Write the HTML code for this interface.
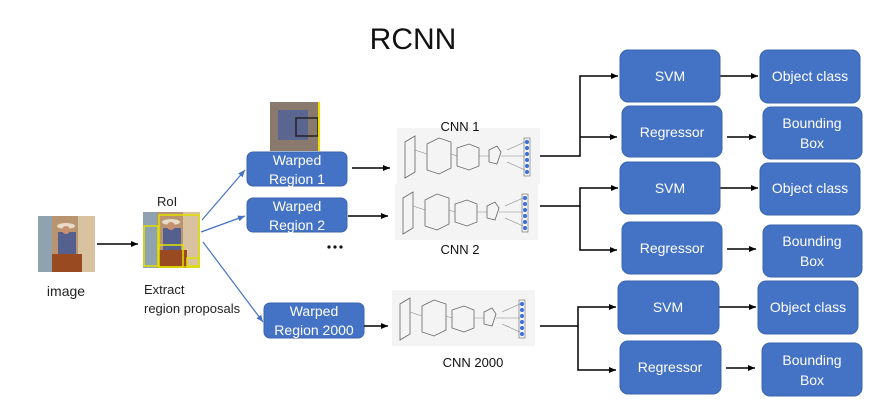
<!DOCTYPE html>
<html><head><meta charset="utf-8"><style>
html,body{margin:0;padding:0;background:#fff;}
svg{display:block;font-family:"Liberation Sans",sans-serif;}
</style></head><body>
<svg width="876" height="413" viewBox="0 0 876 413" xmlns="http://www.w3.org/2000/svg">
<defs>
<marker id="a" markerWidth="8" markerHeight="8" refX="7" refY="4" orient="auto" markerUnits="userSpaceOnUse"><path d="M0,1 L7,4 L0,7 Z" fill="#000"/></marker>
<marker id="b" markerWidth="8" markerHeight="8" refX="7" refY="4" orient="auto" markerUnits="userSpaceOnUse"><path d="M0,1 L7,4 L0,7 Z" fill="#4472c4"/></marker>
<g id="cnn">
<rect x="0" y="0" width="143" height="56" fill="#f4f4f4"/>
<path d="M8,14 L18,8 L18,44 L8,50 Z M30,16 L42,10 L54,14 L54,40 L42,46 L30,42 Z M60,20 L72,16 L82,20 L82,38 L72,42 L60,38 Z M92,22 L100,18 L104,24 L100,36 L92,34 Z" fill="none" stroke="#666" stroke-width="0.8"/>
<path d="M18,22 L30,26 M54,26 L60,28 M82,28 L92,28 M104,28 L128,28 M110,22 L128,14 M110,34 L128,42" stroke="#888" stroke-width="0.6"/>
<rect x="127" y="10" width="6" height="38" fill="none" stroke="#666" stroke-width="0.6"/>
<g fill="#3a6fd8"><circle cx="130" cy="14" r="2"/><circle cx="130" cy="20" r="2"/><circle cx="130" cy="26" r="2"/><circle cx="130" cy="32" r="2"/><circle cx="130" cy="38" r="2"/><circle cx="130" cy="44" r="2"/></g>
</g>
<g id="photo">
<rect x="0" y="0" width="57" height="56" fill="#b89570"/>
<rect x="0" y="0" width="14" height="56" fill="#8fa2b0"/>
<rect x="40" y="0" width="17" height="56" fill="#d8c2a0"/>
<rect x="20" y="16" width="18" height="22" fill="#55608f"/>
<ellipse cx="28" cy="10" rx="9" ry="3" fill="#e8dcc8"/>
<circle cx="28" cy="14" r="4" fill="#c89070"/>
<rect x="14" y="38" width="30" height="18" fill="#9a4a20"/>
</g>
</defs>
<text x="413" y="49" font-size="30" text-anchor="middle" fill="#111">RCNN</text>

<use href="#photo" x="38" y="216"/>
<text x="66" y="296" font-size="14" text-anchor="middle" fill="#222">image</text>
<line x1="97" y1="244" x2="138" y2="244" stroke="#000" stroke-width="1.5" marker-end="url(#a)"/>
<use href="#photo" x="143" y="212"/>
<g fill="none" stroke="#e0e000" stroke-width="1.5"><rect x="159" y="215" width="40" height="52"/><rect x="144" y="226" width="14" height="40"/><rect x="158" y="245" width="25" height="22"/><rect x="187" y="258" width="12" height="8"/></g>
<text x="157" y="206" font-size="13" fill="#222">RoI</text>
<text x="144" y="294" font-size="13" fill="#222">Extract</text>
<text x="144" y="313" font-size="13" fill="#222">region proposals</text>
<g stroke="#4472c4" stroke-width="1.2" fill="none">
<line x1="202" y1="220" x2="245" y2="170" marker-end="url(#b)"/>
<line x1="201" y1="232" x2="245" y2="216" marker-end="url(#b)"/>
<line x1="203" y1="242" x2="263" y2="322" marker-end="url(#b)"/>
</g>
<rect x="270" y="102" width="50" height="49" fill="#8a7a6e"/>
<rect x="278" y="110" width="30" height="30" fill="#5a6590"/>
<rect x="296" y="118" width="22" height="18" fill="none" stroke="#222" stroke-width="1.5"/>
<rect x="318" y="102" width="2" height="49" fill="#f0e000"/>

<g fill="#4472c4" stroke="#3a64ad" stroke-width="1">
<rect x="247" y="152" width="100" height="34" rx="6"/>
<rect x="247" y="198" width="100" height="34" rx="6"/>
<rect x="264" y="303" width="100" height="35" rx="6"/>
</g>
<g fill="#fff" font-size="14" text-anchor="middle">
<text x="297" y="165">Warped</text><text x="297" y="184">Region 1</text>
<text x="297" y="211">Warped</text><text x="297" y="230">Region 2</text>
<text x="314" y="316">Warped</text><text x="314" y="335">Region 2000</text>
</g>
<g fill="#111"><circle cx="329" cy="247" r="1.6"/><circle cx="335" cy="247" r="1.6"/><circle cx="341" cy="247" r="1.6"/></g>
<g stroke="#000" stroke-width="1.5" fill="none">
<line x1="352" y1="168" x2="390" y2="168" marker-end="url(#a)"/>
<line x1="348" y1="216" x2="388" y2="216" marker-end="url(#a)"/>
<line x1="364" y1="326" x2="388" y2="326" marker-end="url(#a)"/>
</g>
<use href="#cnn" x="397" y="128"/>
<use href="#cnn" x="395" y="184"/>
<use href="#cnn" x="392" y="290"/>
<g font-size="13" text-anchor="middle" fill="#111">
<text x="460" y="131">CNN 1</text>
<text x="460" y="254">CNN 2</text>
<text x="473" y="367">CNN 2000</text>
</g>
<g stroke="#000" stroke-width="1.5" fill="none">
<path d="M540,156 H580 V76 H618" marker-end="url(#a)"/>
<path d="M580,137 H617" marker-end="url(#a)"/>
<path d="M540,206 H580 V188 H618" marker-end="url(#a)"/>
<path d="M580,206 V250 H617" marker-end="url(#a)"/>
<path d="M540,326 H578 V307 H616" marker-end="url(#a)"/>
<path d="M578,326 V370 H616" marker-end="url(#a)"/>
<line x1="720" y1="76" x2="758" y2="76" marker-end="url(#a)"/>
<line x1="727" y1="137" x2="756" y2="137" marker-end="url(#a)"/>
<line x1="720" y1="188" x2="758" y2="188" marker-end="url(#a)"/>
<line x1="727" y1="249" x2="756" y2="249" marker-end="url(#a)"/>
<line x1="719" y1="307" x2="756" y2="307" marker-end="url(#a)"/>
<line x1="726" y1="368" x2="755" y2="368" marker-end="url(#a)"/>
</g>
<g fill="#4472c4" stroke="#3a64ad" stroke-width="1">
<rect x="620" y="50" width="100" height="52" rx="8"/>
<rect x="760" y="50" width="100" height="53" rx="8"/>
<rect x="622" y="106" width="100" height="51" rx="8"/>
<rect x="763" y="107" width="99" height="52" rx="8"/>
<rect x="620" y="162" width="100" height="52" rx="8"/>
<rect x="760" y="163" width="100" height="52" rx="8"/>
<rect x="622" y="222" width="100" height="52" rx="8"/>
<rect x="763" y="225" width="99" height="52" rx="8"/>
<rect x="618" y="281" width="101" height="53" rx="8"/>
<rect x="758" y="281" width="100" height="53" rx="8"/>
<rect x="620" y="341" width="101" height="53" rx="8"/>
<rect x="762" y="343" width="100" height="53" rx="8"/>
</g>
<g fill="#fff" font-size="14" text-anchor="middle">
<text x="670" y="81">SVM</text><text x="810" y="81">Object class</text>
<text x="672" y="137">Regressor</text><text x="812" y="128">Bounding</text><text x="812" y="148">Box</text>
<text x="670" y="193">SVM</text><text x="810" y="193">Object class</text>
<text x="672" y="253">Regressor</text><text x="812" y="246">Bounding</text><text x="812" y="266">Box</text>
<text x="668" y="312">SVM</text><text x="808" y="312">Object class</text>
<text x="670" y="372">Regressor</text><text x="812" y="365">Bounding</text><text x="812" y="385">Box</text>
</g>
</svg>
</body></html>
